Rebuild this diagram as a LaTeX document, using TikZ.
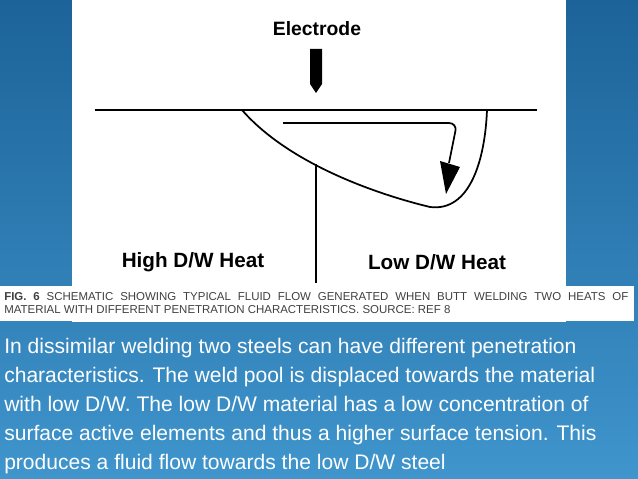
\documentclass[tikz,border=0pt]{standalone}
\usepackage{fontspec}
\setmainfont{Liberation Sans}
\usetikzlibrary{arrows.meta}
\definecolor{bgtop}{HTML}{1C6399}
\definecolor{bgbot}{HTML}{3F95CC}
\tikzset{
  lbl/.style={font=\bfseries\fontsize{15.5}{18}\selectfont, inner sep=0pt},
  ln/.style={line width=1.3pt, black},
}
\begin{document}
\begin{tikzpicture}[x=0.75pt,y=-0.75pt]
\useasboundingbox (0,0) rectangle (638,478);
\shade[top color=bgtop,bottom color=bgbot] (0,0) rectangle (638,478);
\fill[white] (72,0) rectangle (566,322);
\fill[white] (0,286) rectangle (634,321);
% surface
\coordinate (sl) at (95,110);
\coordinate (sr) at (537,110);
\draw[ln] (sl) -- (sr);
% weld pool
\coordinate (pa) at (242,110);
\coordinate (pb) at (430,207);
\coordinate (pc) at (487,110);
\draw[ln] (pa) .. controls (290,165) and (380,195) .. (pb)
  .. controls (470,212) and (485,160) .. (pc);
% joint line
\coordinate (ja) at (316,164);
\coordinate (jb) at (316,283);
\draw[ln] (ja) -- (jb);
% electrode
\node[lbl, font=\bfseries\fontsize{14.5}{16}\selectfont] (el) at (317,29) {Electrode};
\fill[black] (310,49) -- (322,49) -- (322,84) -- (316,93) -- (310,84) -- cycle;
% flow arrow
\coordinate (fa) at (283,123);
\coordinate (fb) at (449,163);
\draw[ln, rounded corners=6pt] (fa) -- (457,123) -- (fb);
\fill[black] (440,161) -- (460,167) -- (446,194) -- cycle;
% labels
\node[lbl] (hi) at (193,262) {High D/W Heat};
\node[lbl] (lo) at (437,262) {Low D/W Heat};
\node[anchor=north west, inner sep=0pt, align=left, font=\fontsize{8.6}{10}\selectfont, text=black!75] (cap) at (4,292)
 {\hbox to 468pt{\textbf{FIG. 6} SCHEMATIC SHOWING TYPICAL FLUID FLOW GENERATED WHEN BUTT WELDING TWO HEATS OF}\\MATERIAL WITH DIFFERENT PENETRATION CHARACTERISTICS. SOURCE: REF 8};
\node[anchor=north west, inner sep=0pt, align=left, text=white, font=\fontsize{15.8}{21.8}\selectfont] (body) at (4,338)
 {In dissimilar welding two steels can have different penetration\\
characteristics. The weld pool is displaced towards the material\\
with low D/W. The low D/W material has a low concentration of\\
surface active elements and thus a higher surface tension. This\\
produces a fluid flow towards the low D/W steel};
\end{tikzpicture}
\end{document}
